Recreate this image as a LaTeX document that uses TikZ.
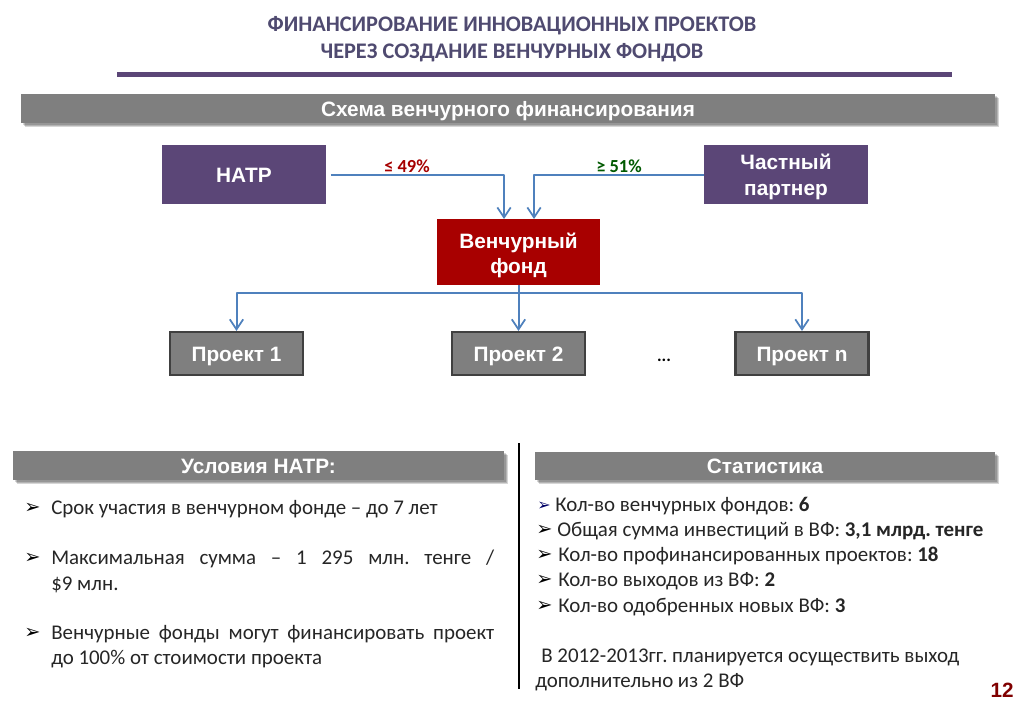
\documentclass[tikz,border=0pt]{standalone}
\usepackage{fontspec}
\setmainfont{Carlito}
\newfontfamily\hdfont{Liberation Sans}
\newfontfamily\symfont{DejaVu Sans}
\usetikzlibrary{shadows,arrows.meta,calc}
\definecolor{purp}{HTML}{5B4677}
\definecolor{titlec}{HTML}{4F4A70}
\definecolor{barg}{HTML}{7F7F7F}
\definecolor{redb}{HTML}{A80000}
\definecolor{linkc}{HTML}{4F81BD}
\definecolor{bodyc}{HTML}{262626}
\def\px{0.75pt}
\newcommand{\bul}{{\symfont\fontsize{14.5pt}{15pt}\selectfont ➢}}
\newcommand{\bulsm}{{\symfont\fontsize{12pt}{15pt}\selectfont\textcolor{blue!40!black}{➢}}}
\newcommand{\twolines}[2]{\begin{tabular}[t]{@{}c@{}}#1\\#2\end{tabular}}
\tikzset{
  x=0.75pt,y=-0.75pt,
  softsh/.style={drop shadow={shadow xshift=#1,shadow yshift=-#1,opacity=.16,fill=black}},
  barbox/.style={fill=barg,draw=none,inner sep=0pt,text=white,text height=11.8pt,text depth=0pt,font=\hdfont\bfseries\fontsize{15.6pt}{17pt}\selectfont,
    softsh=3pt,softsh=2.2pt,softsh=1.4pt},
  purpbox/.style={fill=purp,inner sep=0pt,text=white,minimum width=164*\px,minimum height=59*\px,
    font=\hdfont\bfseries\fontsize{15.6pt}{19pt}\selectfont},
  redbox/.style={fill=redb,inner sep=0pt,text=white,minimum width=163*\px,minimum height=66*\px,
    text height=4pt,text depth=10pt,
    font=\hdfont\bfseries\fontsize{15.6pt}{19pt}\selectfont},
  projbox/.style={fill=barg,draw=black!75,line width=2.2*\px,inner sep=0pt,text=white,text height=12.2pt,text depth=0pt,minimum width=133*\px,minimum height=43*\px,
    font=\hdfont\bfseries\fontsize{15.6pt}{17pt}\selectfont},
  conn/.style={draw=linkc,line width=2*\px,line join=round,-{Straight Barb[length=7.5pt,width=10pt,line width=1.3pt]}},
  pct/.style={font=\bfseries\fontsize{13.8pt}{14pt}\selectfont,inner sep=0pt},
  body/.style={anchor=base west,inner sep=0pt,text=bodyc,font=\frenchspacing\fontsize{15.7pt}{19.1pt}\selectfont},
  bulnode/.style={anchor=base west,inner sep=0pt,text=black},
  ttl/.style={inner sep=0pt,text=titlec,font=\bfseries\fontsize{16.7pt}{18pt}\selectfont}
}
\begin{document}
\begin{tikzpicture}
\useasboundingbox (0,0) rectangle (1023,708);
\fill[white] (0,0) rectangle (1023,708);
\node[ttl] (t1) at (512,26) {ФИНАНСИРОВАНИЕ ИННОВАЦИОННЫХ ПРОЕКТОВ};
\node[ttl] (t2) at (512,53) {ЧЕРЕЗ СОЗДАНИЕ ВЕНЧУРНЫХ ФОНДОВ};
\fill[purp] (117,72) rectangle (952,76.5);
\node[barbox,minimum width=974*\px,minimum height=29*\px] (bar0) at (508,108.5) {Схема венчурного финансирования};
\node[purpbox,text height=12.2pt,text depth=0pt] (natr) at (244,174.5) {НАТР};
\node[purpbox,text height=4pt,text depth=10.8pt] (partner) at (786,174.5) {\twolines{Частный}{партнер}};
\node[redbox] (vf) at (518.5,252) {\twolines{Венчурный}{фонд}};
\node[projbox] (p1) at (236.5,353.5) {Проект 1};
\node[projbox] (p2) at (518.5,353.5) {Проект 2};
\node[projbox] (pn) at (802,353.5) {Проект n};
\coordinate (inL) at (504,219);
\coordinate (inR) at (534,219);
\coordinate (bus) at (518.5,293);
\draw[conn,shorten <=3.5pt] (natr.east) -| (inL);
\draw[conn] (partner.west) -| (inR);
\draw[conn] (vf.south) -- (p2.north);
\draw[conn] (bus) -| (p1.north);
\draw[conn] (bus) -| (pn.north);
\node[pct,text=red!65!black] (l49) at (407,166) {≤ 49\%};
\node[pct,text=green!35!black] (l51) at (619,166) {≥ 51\%};
\node[inner sep=0pt,font=\bfseries\fontsize{13pt}{15pt}\selectfont,text=black] (dots) at (664,360) {...};
\node[barbox,minimum width=491*\px,minimum height=29*\px] (bar1) at (258.5,465.5) {Условия НАТР:};
\node[barbox,minimum width=460*\px,minimum height=28*\px] (bar2) at (765,466) {Статистика};
\draw[black,line width=2*\px] (519,443) -- (519,689);
% left list
\node[bulnode] (b1) at (24,513) {\bul};
\node[body] (s1) at (51,514) {Срок участия в венчурном фонде – до 7 лет};
\node[bulnode] (b2) at (24,563) {\bul};
\node[body,anchor=north west,text width=443*\px,align=justify] (s2) at (51,550) {Максимальная сумма – 1 295 млн. тенге /\linebreak \$9 млн.};
\node[bulnode] (b3) at (24,638) {\bul};
\node[body,anchor=north west,text width=443*\px,align=justify] (s3) at (51,625) {Венчурные фонды могут финансировать проект\linebreak до 100\% от стоимости проекта};
% right list
\node[bulnode] (b4) at (537,510) {\bulsm};
\node[body] (r1) at (555,511) {Кол-во венчурных фондов: \textbf{6}};
\node[bulnode] (b5) at (536,535) {\bul};
\node[body] (r2) at (557,536) {Общая сумма инвестиций в ВФ: \textbf{3,1 млрд. тенге}};
\node[bulnode] (b6) at (536,560) {\bul};
\node[body] (r3) at (558,561) {Кол-во профинансированных проектов: \textbf{18}};
\node[bulnode] (b7) at (536,585) {\bul};
\node[body] (r4) at (558,586) {Кол-во выходов из ВФ: \textbf{2}};
\node[bulnode] (b8) at (536,611) {\bul};
\node[body] (r5) at (558,612) {Кол-во одобренных новых ВФ: \textbf{3}};
\node[body] (r6) at (541,662) {В 2012-2013гг. планируется осуществить выход};
\node[body] (r7) at (535,687) {дополнительно из 2 ВФ};
\node[inner sep=0pt,text=red!50!black,font=\hdfont\bfseries\fontsize{15.5pt}{16pt}\selectfont] (pg) at (1002,690) {12};
\end{tikzpicture}
\end{document}
